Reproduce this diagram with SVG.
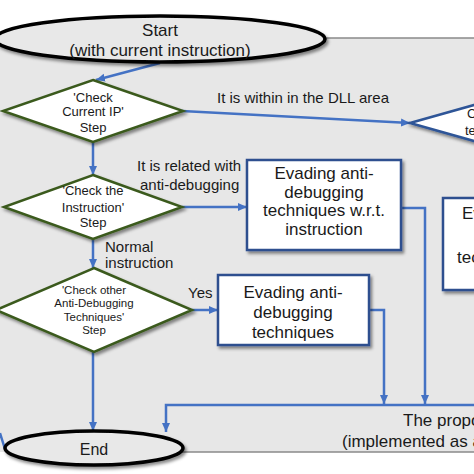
<svg xmlns="http://www.w3.org/2000/svg" width="474" height="474" viewBox="0 0 474 474">
<defs>
<style>
text{font-family:"Liberation Sans",Arial,sans-serif;fill:#1a1a1a}
.c{text-anchor:middle}
.dia{fill:#fff;stroke:#3b5a1e;stroke-width:2.5}
.box{fill:#fff;stroke:#2f4f8f;stroke-width:2.5}
.ell{fill:#e8e8e8;stroke:#000;stroke-width:3.5}
.con{fill:none;stroke:#4472c4;stroke-width:2.5}
</style>
<marker id="ah" markerUnits="userSpaceOnUse" markerWidth="10" markerHeight="10" refX="9" refY="5" orient="auto">
<path d="M0,1 L9,5 L0,9 z" fill="#4472c4"/>
</marker>
<filter id="sh" x="-10%" y="-10%" width="130%" height="140%">
<feDropShadow dx="2" dy="2.5" stdDeviation="1.5" flood-color="#000" flood-opacity="0.45"/>
</filter>
</defs>
<rect x="0" y="0" width="474" height="474" fill="#fff"/>
<rect x="0" y="38" width="474" height="414" fill="#e7e7e7"/>
<line x1="300" y1="38" x2="474" y2="38" stroke="#8a8a8a" stroke-width="1.5"/>
<line x1="170" y1="452" x2="474" y2="452" stroke="#8a8a8a" stroke-width="1.5"/>

<g id="connectors">
<path class="con" d="M160,63 L96,80" marker-end="url(#ah)"/>
<path class="con" d="M182,111 L410,123" marker-end="url(#ah)"/>
<path class="con" d="M93,142 L93,175" marker-end="url(#ah)"/>
<path class="con" d="M182,207 L247,207" marker-end="url(#ah)"/>
<path class="con" d="M93,239 L93,268" marker-end="url(#ah)"/>
<path class="con" d="M192,310 L218,310" marker-end="url(#ah)"/>
<path class="con" d="M93,352 L93,431" marker-end="url(#ah)"/>
<path class="con" d="M401,208 L425,208 L425,404" marker-end="url(#ah)"/>
<path class="con" d="M369,310 L384,310 L384,404" marker-end="url(#ah)"/>
<path class="con" d="M474,405 L166,405 L166,432" marker-end="url(#ah)"/>
<path class="con" d="M0,433 L5,449"/>
<text x="217" y="103" font-size="15">It is within in the DLL area</text>
<text x="137" y="171" font-size="15">It is related with</text>
<text x="140" y="190" font-size="15">anti-debugging</text>
<text x="105" y="252" font-size="15">Normal</text>
<text x="105" y="268" font-size="15">instruction</text>
<text x="188" y="298" font-size="15">Yes</text>
</g>

<g id="start">
<ellipse class="ell" cx="160" cy="39" rx="165" ry="23" filter="url(#sh)"/>
<text class="c" x="160" y="36" font-size="17">Start</text>
<text class="c" x="160" y="56" font-size="17">(with current instruction)</text>
</g>

<g id="check-ip">
<polygon class="dia" points="93,80 183,111 93,142 3,111" filter="url(#sh)"/>
<text class="c" x="93" y="101.5" font-size="13">'Check</text>
<text class="c" x="93" y="115.5" font-size="13">Current IP'</text>
<text class="c" x="93" y="131.5" font-size="13">Step</text>
</g>

<g id="check-other-right">
<polygon points="410,123 520,92 630,123 520,154" fill="#fff" stroke="#2f5597" stroke-width="2.5" filter="url(#sh)"/>
<text x="467" y="118" font-size="13">Check</text>
<text x="465" y="135" font-size="13">techniques</text>
</g>

<g id="check-instruction">
<polygon class="dia" points="93,175 182,207 93,239 4,207" filter="url(#sh)"/>
<text class="c" x="93" y="194.5" font-size="13">'Check the</text>
<text class="c" x="93" y="211.5" font-size="13">Instruction'</text>
<text class="c" x="93" y="226.5" font-size="13">Step</text>
</g>

<g id="evading-instruction">
<rect class="box" x="247" y="160" width="154" height="90" filter="url(#sh)"/>
<text class="c" x="324" y="179" font-size="17">Evading anti-</text>
<text class="c" x="324" y="198" font-size="17">debugging</text>
<text class="c" x="324" y="216" font-size="17">techniques w.r.t.</text>
<text class="c" x="324" y="235" font-size="17">instruction</text>
</g>

<g id="evading-other-right">
<rect class="box" x="443" y="198" width="120" height="92" filter="url(#sh)"/>
<text x="462" y="219" font-size="17">Evading</text>
<text x="457" y="263" font-size="17">techniques</text>
</g>

<g id="check-other">
<polygon class="dia" points="94,268 192,310 94,352 -4,310" filter="url(#sh)"/>
<text class="c" x="94" y="294" font-size="11.5">'Check other</text>
<text class="c" x="94" y="307" font-size="11.5">Anti-Debugging</text>
<text class="c" x="94" y="321" font-size="11.5">Techniques'</text>
<text class="c" x="94" y="334" font-size="11.5">Step</text>
</g>

<g id="evading-other">
<rect class="box" x="218" y="275" width="151" height="70" filter="url(#sh)"/>
<text class="c" x="293" y="298" font-size="17">Evading anti-</text>
<text class="c" x="293" y="318" font-size="17">debugging</text>
<text class="c" x="293" y="338" font-size="17">techniques</text>
</g>

<g id="end">
<ellipse class="ell" cx="94" cy="448" rx="89" ry="17" filter="url(#sh)"/>
<text class="c" x="94" y="455" font-size="16">End</text>
</g>

<g id="caption">
<text x="403" y="426" font-size="17">The proposed</text>
<text x="342" y="447" font-size="17">(implemented as a</text>
</g>
</svg>
